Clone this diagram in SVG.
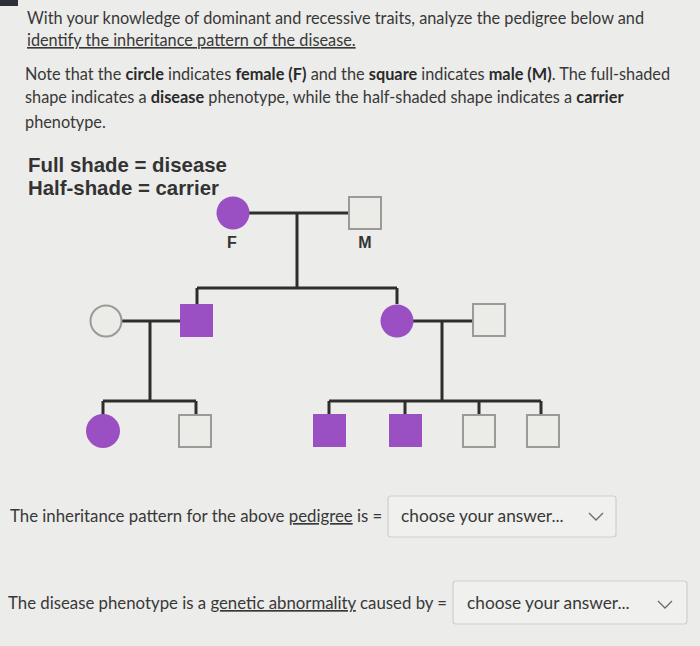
<svg xmlns="http://www.w3.org/2000/svg" width="700" height="646" viewBox="0 0 700 646">
<style>
.p{font-family:Lato,"Open Sans","Liberation Sans",sans-serif;font-size:16.3px;fill:#383838}
.q{font-size:16.8px}
.c{font-size:17.3px}
.b{font-weight:bold;fill:#2a2a2a}
.u{text-decoration:underline}
.leg{font-family:"Liberation Sans",Arial,sans-serif;font-weight:bold;font-size:20.4px;fill:#333}
.lab{font-family:"Liberation Sans",Arial,sans-serif;font-weight:bold;font-size:16px;fill:#333;text-anchor:middle}
.aff{fill:#9a4fc2}
.un{fill:#ebebe7;stroke:#9a9a98;stroke-width:2}
.ln{stroke:#2e2e2e;stroke-width:3;fill:none}
.box{fill:#f0f0ee;stroke:#cfcfcd;stroke-width:1.2}
.chev{fill:none;stroke:#6a6a6a;stroke-width:1.3}
</style>
<rect width="700" height="646" fill="#ececea"/>
<rect x="0" y="0" width="18" height="6" fill="#2c3038"/>

<g id="intro">
<text class="p" x="27" y="24">With your knowledge of dominant and recessive traits, analyze the pedigree below and</text>
<text class="p u" x="27" y="46">identify the inheritance pattern of the disease.</text>
<text class="p" x="25" y="80">Note that the <tspan class="b">circle</tspan> indicates <tspan class="b">female (F)</tspan> and the <tspan class="b">square</tspan> indicates <tspan class="b">male (M)</tspan>. The full-shaded</text>
<text class="p" x="25" y="103">shape indicates a <tspan class="b">disease</tspan> phenotype, while the half-shaded shape indicates a <tspan class="b">carrier</tspan></text>
<text class="p" x="25" y="128">phenotype.</text>
</g>

<g id="legend">
<text class="leg" x="28" y="172">Full shade = disease</text>
<text class="leg" x="28" y="195">Half-shade = carrier</text>
</g>

<g id="connectors">
<path class="ln" d="M249 213H349M297 213V288M197 288H397M197 288V304M397 288V304"/>
<path class="ln" d="M122 321H180M150 321V401M103 401H196M103 401V415M196 401V415"/>
<path class="ln" d="M413 321H473M442 321V401M329 401H541M329 401V414M405 401V414M479 401V414M541 401V414"/>
</g>

<g id="gen1-female">
<circle class="aff" cx="233" cy="213" r="16.5"/>
<text class="lab" x="232" y="248">F</text>
</g>
<g id="gen1-male">
<rect class="un" x="349" y="197" width="32" height="32"/>
<text class="lab" x="365" y="248">M</text>
</g>

<g id="gen2-spouse-female"><circle class="un" cx="106" cy="321" r="15.5"/></g>
<g id="gen2-son"><rect class="aff" x="180" y="304" width="33" height="33"/></g>
<g id="gen2-daughter"><circle class="aff" cx="397" cy="321" r="16.5"/></g>
<g id="gen2-spouse-male"><rect class="un" x="473" y="304" width="32" height="32"/></g>

<g id="gen3-daughter"><circle class="aff" cx="103" cy="431" r="17"/></g>
<g id="gen3-son"><rect class="un" x="179" y="415" width="32" height="32"/></g>
<g id="gen3-son1"><rect class="aff" x="313" y="414" width="33" height="33"/></g>
<g id="gen3-son2"><rect class="aff" x="389" y="414" width="33" height="33"/></g>
<g id="gen3-son3"><rect class="un" x="463" y="415" width="32" height="32"/></g>
<g id="gen3-son4"><rect class="un" x="527" y="415" width="32" height="32"/></g>

<g id="question1">
<text class="p q" x="10" y="522">The inheritance pattern for the above <tspan class="u">pedigree</tspan> is =</text>
<rect class="box" x="388" y="496" width="228" height="41" rx="3"/>
<text class="p c" x="401" y="522">choose your answer...</text>
<polyline class="chev" points="589,513 596,520 603,513"/>
</g>

<g id="question2">
<text class="p q" x="8" y="609">The disease phenotype is a <tspan class="u">genetic abnormality</tspan> caused by =</text>
<rect class="box" x="453" y="581" width="234" height="43" rx="3"/>
<text class="p c" x="467" y="609">choose your answer...</text>
<polyline class="chev" points="658,601 665,608 672,601"/>
</g>
</svg>
